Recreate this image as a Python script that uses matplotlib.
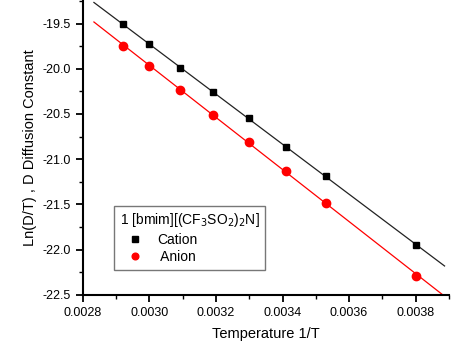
import numpy as np
import matplotlib
matplotlib.use("Agg")
import matplotlib.pyplot as plt
from matplotlib.ticker import MultipleLocator, FormatStrFormatter

plt.rcParams['font.family'] = ['Liberation Sans', 'DejaVu Sans']

inv_T = [0.00292, 0.00300, 0.003093, 0.003192, 0.003298, 0.003411, 0.003532, 0.00380]
cation = [-19.51, -19.73, -19.99, -20.26, -20.55, -20.86, -21.19, -21.95]
anion = [-19.75, -19.97, -20.23, -20.51, -20.81, -21.13, -21.48, -22.29]
fit_range = [0.002833, 0.003887]

fig = plt.figure(figsize=(4.74, 3.51), dpi=100)
ax = fig.add_axes([0.175, 0.16, 0.772, 0.84])

x = np.array(inv_T)
xf = np.linspace(fit_range[0], fit_range[1], 50)
for vals, col in [(cation, '#222222'), (anion, 'red')]:
    p = np.polyfit(x, vals, 1)
    ax.plot(xf, np.polyval(p, xf), color=col, lw=0.9, zorder=2)

ax.plot(inv_T, cation, 's', color='black', ms=5, label='Cation', zorder=3)
ax.plot(inv_T, anion, 'o', color='red', ms=6, label=' Anion', zorder=3)

ax.set_xlim(0.0028, 0.0039)
ax.set_ylim(-22.5, -19.24)
ax.xaxis.set_major_locator(MultipleLocator(0.0002))
ax.xaxis.set_minor_locator(MultipleLocator(0.0001))
ax.yaxis.set_major_locator(MultipleLocator(0.5))
ax.yaxis.set_minor_locator(MultipleLocator(0.25))
ax.xaxis.set_major_formatter(FormatStrFormatter('%.4f'))
ax.yaxis.set_major_formatter(FormatStrFormatter('%.1f'))

for s in ['top', 'right']:
    ax.spines[s].set_visible(False)
for s in ['left', 'bottom']:
    ax.spines[s].set_linewidth(1.5)
ax.tick_params(which='major', direction='out', length=5, width=1.3, labelsize=9)
ax.tick_params(which='minor', direction='out', length=3, width=1.0)

ax.set_xlabel('Temperature 1/T', fontsize=10.5, labelpad=6)
ax.set_ylabel('Ln(D/T) , D Diffusion Constant', fontsize=10.5, labelpad=4)

leg = ax.legend(title='1 [bmim][(CF$_3$SO$_2$)$_2$N]', loc='lower left',
                bbox_to_anchor=(0.085, 0.085), borderaxespad=0,
                fontsize=10, title_fontsize=10, markerscale=0.8,
                frameon=True, fancybox=False, edgecolor='#555555',
                handletextpad=0.5, handlelength=2.2, borderpad=0.4,
                labelspacing=0.25)
leg.get_frame().set_linewidth(1.0)
leg._legend_box.align = 'left'

fig.savefig('out.png', dpi=100)
